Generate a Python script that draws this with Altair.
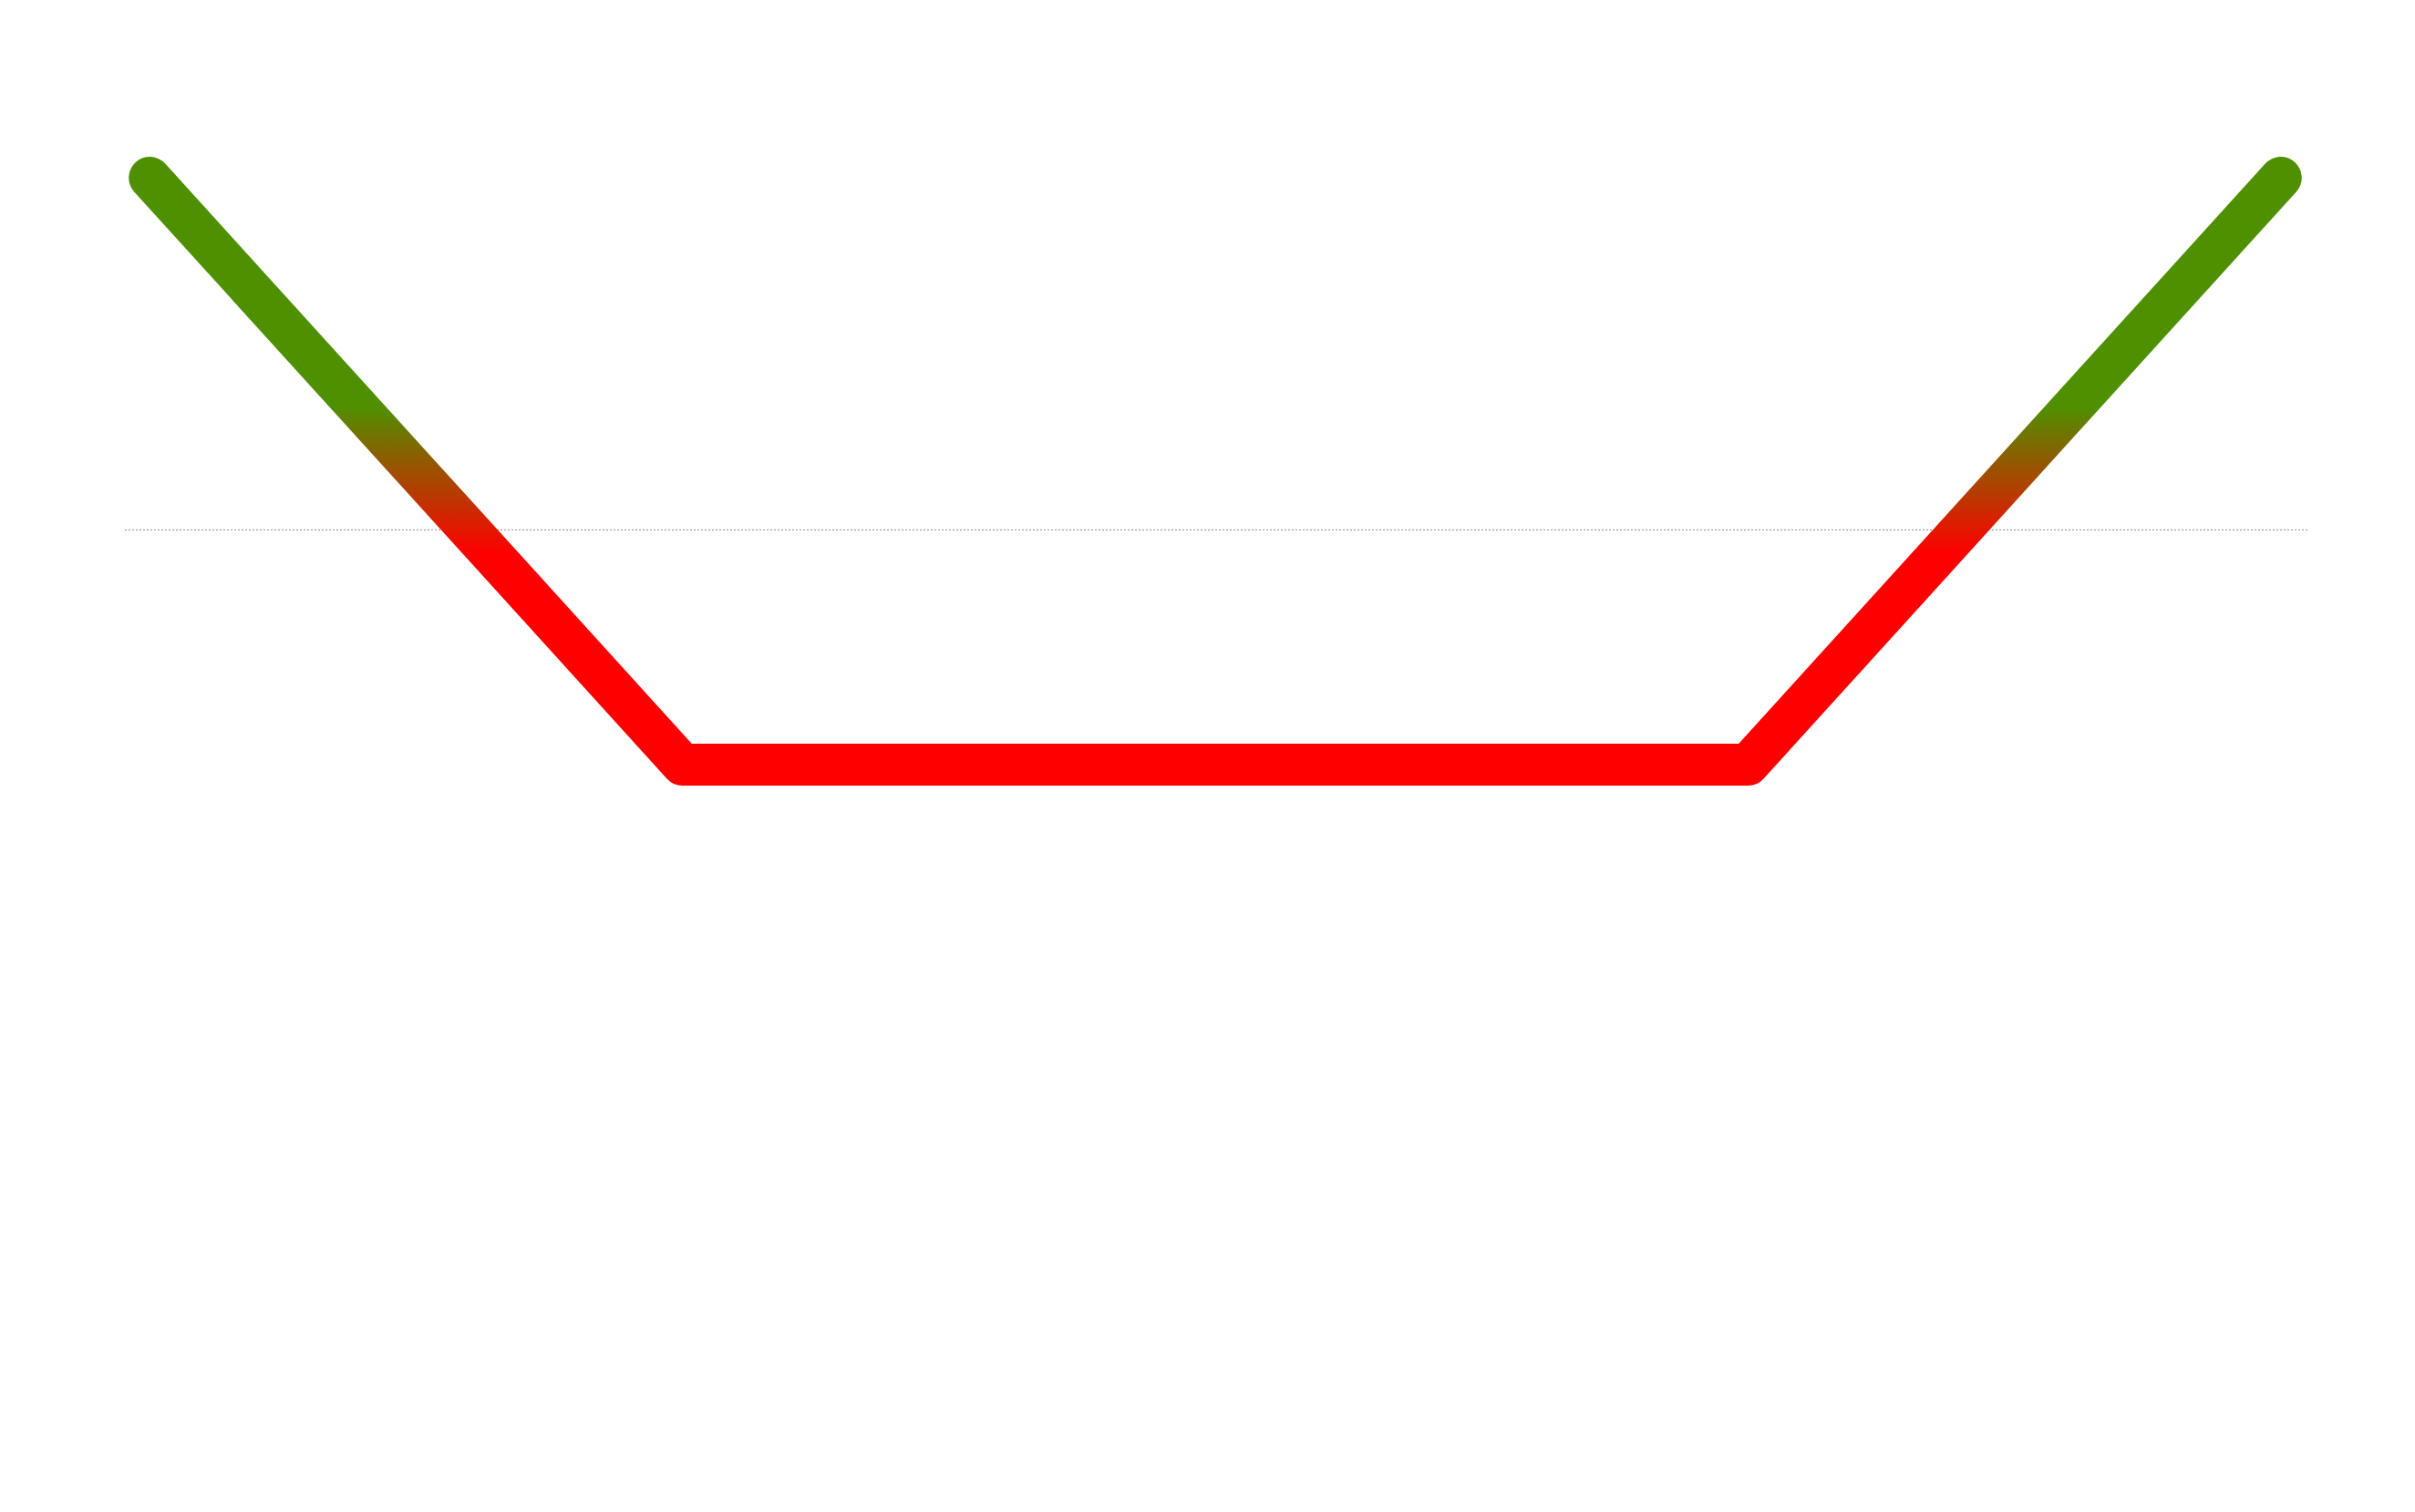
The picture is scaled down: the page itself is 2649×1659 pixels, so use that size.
import altair as alt
import pandas as pd

# Data
x_pos = [0, 1, 2, 3, 4]
values = [100, 0, 0, 0, 100]
threshold = [40]

line_df = pd.DataFrame({"x": x_pos, "value": values})
rule_df = pd.DataFrame({"threshold": threshold})

x_scale = alt.Scale(domain=[-0.05, 4.05], nice=False, zero=False)
y_scale = alt.Scale(domain=[0, 100], nice=False, zero=False)

rule = alt.Chart(rule_df).mark_rule(
    color="#8c8c8c", strokeWidth=1, strokeDash=[2, 2]
).encode(
    y=alt.Y("threshold:Q", scale=y_scale, axis=None)
)

line = alt.Chart(line_df).mark_line(
    strokeWidth=46,
    strokeCap="round",
    strokeJoin="round",
    stroke=alt.Gradient(
        gradient="linear",
        stops=[
            alt.GradientStop(color="#4f9000", offset=0.39),
            alt.GradientStop(color="#ff0000", offset=0.64),
        ],
        x1=1, x2=1, y1=0, y2=1,
    ),
).encode(
    x=alt.X("x:Q", scale=x_scale, axis=None),
    y=alt.Y("value:Q", scale=y_scale, axis=None),
)

chart = alt.layer(rule, line).properties(
    width=2396,
    height=644,
    background="white",
    padding={"left": 127, "top": 187, "right": 60, "bottom": 60},
    autosize=alt.AutoSizeParams(type="none"),
).configure_view(strokeWidth=0, stroke="transparent")

chart.save("out.html", embed_options={"renderer": "svg", "actions": False})
